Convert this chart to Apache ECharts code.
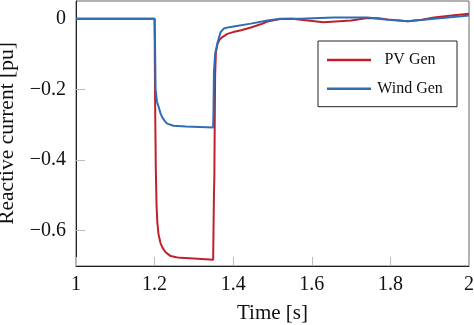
<!DOCTYPE html>
<html>
<head>
<meta charset="utf-8">
<script src="https://cdn.jsdelivr.net/npm/echarts@6/dist/echarts.min.js"></script>
<style>html,body{margin:0;padding:0;background:#fff}#c{width:474px;height:325px}</style>
</head>
<body>
<div id="c"></div>
<script>
// Data
var pvTime = [1.0, 1.2, 1.201, 1.203, 1.205, 1.207, 1.21, 1.215, 1.22, 1.228, 1.235, 1.241, 1.255, 1.266, 1.3, 1.349,
  1.351, 1.352, 1.353, 1.354, 1.356, 1.36, 1.365, 1.3725, 1.385, 1.40, 1.42, 1.445, 1.47, 1.487, 1.52, 1.55, 1.572,
  1.63, 1.70, 1.742, 1.77, 1.793, 1.844, 1.88, 1.911, 1.962, 2.0];
var pvValues = [0, 0, -0.2, -0.42, -0.53, -0.577, -0.61, -0.635, -0.648, -0.661, -0.667, -0.672, -0.675, -0.677, -0.679, -0.682,
  -0.5, -0.45, -0.3, -0.16, -0.095, -0.072, -0.06, -0.052, -0.043, -0.038, -0.033, -0.025, -0.016, -0.008, -0.001, 0, -0.003,
  -0.01, -0.005, 0.002, 0.001, -0.002, -0.007, -0.003, 0.003, 0.01, 0.014];
var windTime = [1.0, 1.2, 1.201, 1.2025, 1.206, 1.211, 1.215, 1.22, 1.226, 1.232, 1.248, 1.28, 1.349,
  1.350, 1.351, 1.354, 1.3597, 1.368, 1.376, 1.39, 1.401, 1.445, 1.487, 1.52, 1.572, 1.62, 1.656, 1.742, 1.793, 1.844, 1.911, 1.96, 2.0];
var windValues = [0, 0, -0.06, -0.2, -0.235, -0.252, -0.268, -0.28, -0.29, -0.297, -0.303, -0.305, -0.308,
  -0.25, -0.15, -0.1, -0.07, -0.038, -0.028, -0.024, -0.022, -0.014, -0.005, 0, 0, 0.002, 0.003, 0.003, -0.003, -0.007, 0, 0.005, 0.009];
var xTicks = [1, 1.2, 1.4, 1.6, 1.8, 2];
var yTicks = [-0.6, -0.4, -0.2, 0];
var seriesNames = ['PV Gen', 'Wind Gen'];

function zip(a, b) { return a.map(function (t, i) { return [t, b[i]]; }); }
function fmt(v) {
  var n = Number(v.toFixed(2));
  if (n === 0) return '0';
  return (n < 0 ? '\u2212' : '') + String(Math.abs(n));
}
var FONT = 'Liberation Serif';
var chart = echarts.init(document.getElementById('c'), null, { renderer: 'canvas' });
chart.setOption({
  animation: false,
  backgroundColor: '#fff',
  grid: { left: 76, right: 5, top: 1, bottom: 59, containLabel: false, outerBoundsMode: 'none',
    show: true, borderColor: '#666', borderWidth: 1 },
  xAxis: {
    type: 'value', min: 1, max: 2,
    name: 'Time [s]', nameLocation: 'middle', nameGap: 37,
    nameTextStyle: { fontFamily: FONT, fontSize: 21, color: '#111' },
    axisLine: { show: true, onZero: false, lineStyle: { color: '#222', width: 1 } },
    axisTick: { show: true, inside: true, length: 9, lineStyle: { color: '#bbb' }, customValues: xTicks },
    axisLabel: { fontFamily: FONT, fontSize: 20, color: '#111', margin: 9, customValues: xTicks, formatter: fmt },
    splitLine: { show: false }
  },
  yAxis: {
    type: 'value', min: -0.7, max: 0.05,
    name: 'Reactive current [pu]', nameLocation: 'middle', nameGap: 56,
    nameTextStyle: { fontFamily: FONT, fontSize: 21.5, color: '#111' },
    axisLine: { show: true, onZero: false, lineStyle: { color: '#222', width: 1 } },
    axisTick: { show: true, inside: true, length: 9, lineStyle: { color: '#bbb' }, customValues: yTicks },
    axisLabel: { fontFamily: FONT, fontSize: 20, color: '#111', margin: 10, customValues: yTicks, formatter: fmt },
    splitLine: { show: false }
  },
  legend: {
    orient: 'vertical', left: 318, top: 41,
    padding: [11, 13, 10, 9],
    icon: 'rect',
    itemWidth: 44, itemHeight: 2.5, itemGap: 12.7,
    borderColor: '#222', borderWidth: 1, backgroundColor: '#fff',
    formatter: function (n) { return '{a|' + n + '}'; },
    textStyle: { fontFamily: FONT, fontSize: 16, color: '#111',
      rich: { a: { fontFamily: FONT, fontSize: 16, lineHeight: 14, color: '#111', width: 68, align: 'center' } } },
    data: seriesNames
  },
  series: [
    { name: seriesNames[0], type: 'line', symbol: 'none', data: zip(pvTime, pvValues),
      lineStyle: { color: '#c0202a', width: 2 }, itemStyle: { color: '#c0202a' } },
    { name: seriesNames[1], type: 'line', symbol: 'none', data: zip(windTime, windValues),
      lineStyle: { color: '#2e6db4', width: 2 }, itemStyle: { color: '#2e6db4' } }
  ]
});
</script>
</body>
</html>
